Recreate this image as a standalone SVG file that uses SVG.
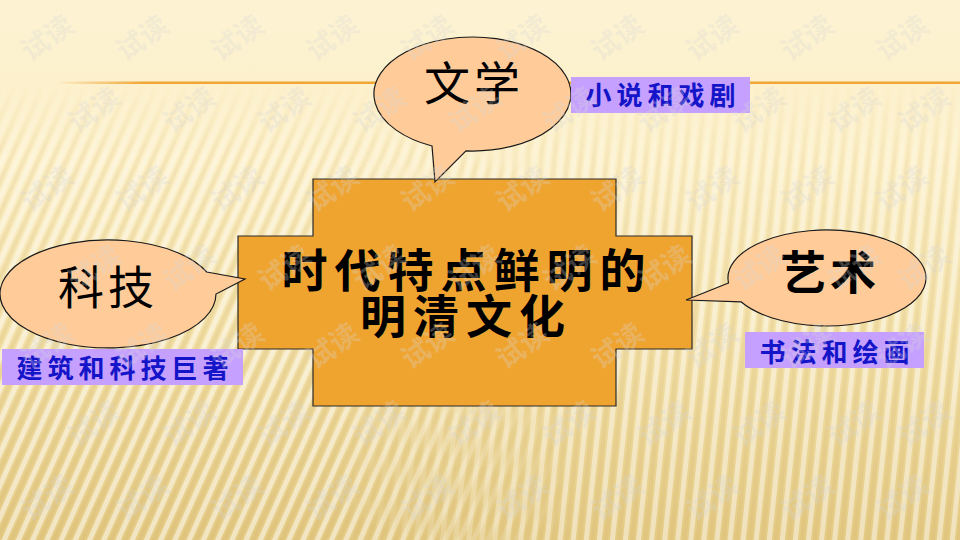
<svg xmlns="http://www.w3.org/2000/svg" width="960" height="540" viewBox="0 0 960 540">
<defs>
<linearGradient id="bg" x1="0" y1="0" x2="0" y2="1">
<stop offset="0" stop-color="#fdf3d3"/>
<stop offset="0.3" stop-color="#fcefc6"/>
<stop offset="0.6" stop-color="#f4e2ab"/>
<stop offset="1" stop-color="#e4ca84"/>
</linearGradient>
<linearGradient id="fadeV" x1="0" y1="0" x2="0" y2="1">
<stop offset="0" stop-color="#000"/>
<stop offset="0.15" stop-color="#000"/>
<stop offset="0.3" stop-color="#bbb"/>
<stop offset="0.6" stop-color="#fff"/>
<stop offset="1" stop-color="#fff"/>
</linearGradient>
<linearGradient id="fadeL" x1="0" y1="0" x2="1" y2="0">
<stop offset="0" stop-color="#fff"/>
<stop offset="0.35" stop-color="#fff"/>
<stop offset="0.6" stop-color="#000"/>
<stop offset="1" stop-color="#000"/>
</linearGradient>
<linearGradient id="fadeR" x1="0" y1="0" x2="1" y2="0">
<stop offset="0" stop-color="#000"/>
<stop offset="0.35" stop-color="#000"/>
<stop offset="0.6" stop-color="#fff"/>
<stop offset="1" stop-color="#fff"/>
</linearGradient>
<mask id="mV"><rect x="0" y="0" width="960" height="540" fill="url(#fadeV)"/></mask>
<mask id="mL"><rect x="0" y="0" width="960" height="540" fill="url(#fadeL)"/></mask>
<mask id="mR"><rect x="0" y="0" width="960" height="540" fill="url(#fadeR)"/></mask>
<pattern id="stripesL" width="13" height="40" patternUnits="userSpaceOnUse" patternTransform="rotate(24)">
<rect x="0" y="0" width="5" height="40" fill="#ffffff" opacity="0.5"/>
<rect x="7" y="0" width="4" height="40" fill="#c9a85a" opacity="0.18"/>
</pattern>
<pattern id="stripesR" width="13" height="40" patternUnits="userSpaceOnUse" patternTransform="rotate(6)">
<rect x="0" y="0" width="5" height="40" fill="#ffffff" opacity="0.45"/>
<rect x="7" y="0" width="4" height="40" fill="#c9a85a" opacity="0.15"/>
</pattern>
<linearGradient id="hline" x1="0" y1="0" x2="1" y2="0">
<stop offset="0" stop-color="#f0a534" stop-opacity="0"/>
<stop offset="0.1" stop-color="#f0a534" stop-opacity="1"/>
<stop offset="1" stop-color="#f0a534" stop-opacity="1"/>
</linearGradient>
<style>
.bubble{fill:#ffcc99;stroke:#1a1a1a;stroke-width:1.2}
.big{font-family:"Noto Sans CJK SC","Noto Sans CJK TC",sans-serif;font-size:46px;fill:#000;text-anchor:middle;letter-spacing:4px}
.title{font-family:"Noto Sans CJK SC",sans-serif;font-size:46px;font-weight:bold;fill:#000;text-anchor:middle;letter-spacing:7px}
.tag{fill:#c6a0ff}
.tagt{font-family:"Noto Sans CJK SC",sans-serif;font-size:26px;font-weight:bold;fill:#1414c8;text-anchor:middle;letter-spacing:5px}
.wm{font-family:"Noto Sans CJK SC",sans-serif;font-size:28px;font-weight:bold;fill:#d6d6d6;opacity:0.28;text-anchor:middle}
</style>
</defs>
<g id="background">
<rect x="0" y="0" width="960" height="540" fill="url(#bg)"/>
<g mask="url(#mV)">
<rect x="0" y="0" width="960" height="540" fill="url(#stripesL)" mask="url(#mL)"/>
<rect x="0" y="0" width="960" height="540" fill="url(#stripesR)" mask="url(#mR)"/>
</g>
<rect x="55" y="81.5" width="905" height="2.5" fill="url(#hline)"/>
</g>
<g id="center">
<path d="M313,179 H616 V236 H692 V349 H616 V406 H313 V349 H238 V236 H313 Z" fill="#f0a430" stroke="#2a2a2a" stroke-width="1.2"/>
<text class="title"><tspan x="467" y="287">时代特点鲜明的</tspan><tspan x="466" y="333">明清文化</tspan></text>
</g>
<g id="connectors"></g>
<g id="literature">
<path class="bubble" d="M432,146 A98.5,57 0 1 1 466,150.9 L435,182 Z"/>
<text class="big" x="474" y="100">文学</text>
</g>
<g id="literature-tag">
<rect class="tag" x="571" y="77" width="179" height="36"/>
<text class="tagt" x="663" y="105">小说和戏剧</text>
</g>
<g id="science">
<path class="bubble" d="M206.7,272 L245,279 L216,294 A108,54 0 1 1 206.7,272 Z"/>
<text class="big" x="108" y="304">科技</text>
</g>
<g id="science-tag">
<rect class="tag" x="2" y="349" width="241" height="36"/>
<text class="tagt" x="125" y="378">建筑和科技巨著</text>
</g>
<g id="art">
<path class="bubble" d="M728.5,283 L686,300 L741,301.8 A99,48 0 1 0 728.5,283 Z"/>
<text class="big" x="830" y="289" font-weight="bold">艺术</text>
</g>
<g id="art-tag">
<rect class="tag" x="745" y="332" width="179" height="36"/>
<text class="tagt" x="837" y="362">书法和绘画</text>
</g>
<g id="watermark">
<text class="wm" transform="translate(53,46) rotate(-35)">试读</text>
<text class="wm" transform="translate(148,46) rotate(-35)">试读</text>
<text class="wm" transform="translate(243,46) rotate(-35)">试读</text>
<text class="wm" transform="translate(338,46) rotate(-35)">试读</text>
<text class="wm" transform="translate(433,46) rotate(-35)">试读</text>
<text class="wm" transform="translate(528,46) rotate(-35)">试读</text>
<text class="wm" transform="translate(623,46) rotate(-35)">试读</text>
<text class="wm" transform="translate(718,46) rotate(-35)">试读</text>
<text class="wm" transform="translate(813,46) rotate(-35)">试读</text>
<text class="wm" transform="translate(908,46) rotate(-35)">试读</text>
<text class="wm" transform="translate(100,118) rotate(-35)">试读</text>
<text class="wm" transform="translate(195,118) rotate(-35)">试读</text>
<text class="wm" transform="translate(290,118) rotate(-35)">试读</text>
<text class="wm" transform="translate(385,118) rotate(-35)">试读</text>
<text class="wm" transform="translate(480,118) rotate(-35)">试读</text>
<text class="wm" transform="translate(575,118) rotate(-35)">试读</text>
<text class="wm" transform="translate(670,118) rotate(-35)">试读</text>
<text class="wm" transform="translate(765,118) rotate(-35)">试读</text>
<text class="wm" transform="translate(860,118) rotate(-35)">试读</text>
<text class="wm" transform="translate(930,118) rotate(-35)">试读</text>
<text class="wm" transform="translate(53,197) rotate(-35)">试读</text>
<text class="wm" transform="translate(148,197) rotate(-35)">试读</text>
<text class="wm" transform="translate(243,197) rotate(-35)">试读</text>
<text class="wm" transform="translate(338,197) rotate(-35)">试读</text>
<text class="wm" transform="translate(433,197) rotate(-35)">试读</text>
<text class="wm" transform="translate(528,197) rotate(-35)">试读</text>
<text class="wm" transform="translate(623,197) rotate(-35)">试读</text>
<text class="wm" transform="translate(718,197) rotate(-35)">试读</text>
<text class="wm" transform="translate(813,197) rotate(-35)">试读</text>
<text class="wm" transform="translate(908,197) rotate(-35)">试读</text>
<text class="wm" transform="translate(100,276) rotate(-35)">试读</text>
<text class="wm" transform="translate(195,276) rotate(-35)">试读</text>
<text class="wm" transform="translate(290,276) rotate(-35)">试读</text>
<text class="wm" transform="translate(385,276) rotate(-35)">试读</text>
<text class="wm" transform="translate(480,276) rotate(-35)">试读</text>
<text class="wm" transform="translate(575,276) rotate(-35)">试读</text>
<text class="wm" transform="translate(670,276) rotate(-35)">试读</text>
<text class="wm" transform="translate(765,276) rotate(-35)">试读</text>
<text class="wm" transform="translate(860,276) rotate(-35)">试读</text>
<text class="wm" transform="translate(930,276) rotate(-35)">试读</text>
<text class="wm" transform="translate(53,354) rotate(-35)">试读</text>
<text class="wm" transform="translate(148,354) rotate(-35)">试读</text>
<text class="wm" transform="translate(243,354) rotate(-35)">试读</text>
<text class="wm" transform="translate(338,354) rotate(-35)">试读</text>
<text class="wm" transform="translate(433,354) rotate(-35)">试读</text>
<text class="wm" transform="translate(528,354) rotate(-35)">试读</text>
<text class="wm" transform="translate(623,354) rotate(-35)">试读</text>
<text class="wm" transform="translate(718,354) rotate(-35)">试读</text>
<text class="wm" transform="translate(813,354) rotate(-35)">试读</text>
<text class="wm" transform="translate(908,354) rotate(-35)">试读</text>
<text class="wm" transform="translate(100,432) rotate(-35)">试读</text>
<text class="wm" transform="translate(195,432) rotate(-35)">试读</text>
<text class="wm" transform="translate(290,432) rotate(-35)">试读</text>
<text class="wm" transform="translate(385,432) rotate(-35)">试读</text>
<text class="wm" transform="translate(480,432) rotate(-35)">试读</text>
<text class="wm" transform="translate(575,432) rotate(-35)">试读</text>
<text class="wm" transform="translate(670,432) rotate(-35)">试读</text>
<text class="wm" transform="translate(765,432) rotate(-35)">试读</text>
<text class="wm" transform="translate(860,432) rotate(-35)">试读</text>
<text class="wm" transform="translate(930,432) rotate(-35)">试读</text>
<text class="wm" transform="translate(53,506) rotate(-35)">试读</text>
<text class="wm" transform="translate(148,506) rotate(-35)">试读</text>
<text class="wm" transform="translate(243,506) rotate(-35)">试读</text>
<text class="wm" transform="translate(338,506) rotate(-35)">试读</text>
<text class="wm" transform="translate(433,506) rotate(-35)">试读</text>
<text class="wm" transform="translate(528,506) rotate(-35)">试读</text>
<text class="wm" transform="translate(623,506) rotate(-35)">试读</text>
<text class="wm" transform="translate(718,506) rotate(-35)">试读</text>
<text class="wm" transform="translate(813,506) rotate(-35)">试读</text>
<text class="wm" transform="translate(908,506) rotate(-35)">试读</text>
</g>
</svg>
